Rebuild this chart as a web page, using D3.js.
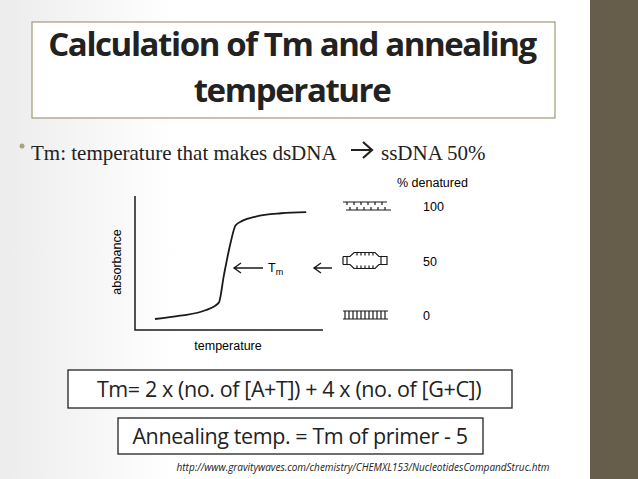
<!DOCTYPE html>
<html><head><meta charset="utf-8">
<script src="https://cdn.jsdelivr.net/npm/d3@7"></script>
<style>body{margin:0;background:#fff}svg{display:block}</style>
</head><body>
<script>
// melting curve: temperature (0-100) vs absorbance (0-100)
const temps = [0, 15, 30, 38, 41, 45, 48, 52, 60, 75, 90];
const absorb = [0, 3, 8, 15, 40, 70, 86, 90, 94, 97, 98];
const levels = ["100", "50", "0"];
const legendTitle = "% denatured";

const svg = d3.select("body").append("svg").attr("width", 638).attr("height", 479);
const defs = svg.append("defs");
const g = defs.append("linearGradient").attr("id", "bg").attr("x1", 0).attr("x2", 1);
g.append("stop").attr("offset", 0).attr("stop-color", "#ececec");
g.append("stop").attr("offset", 0.3).attr("stop-color", "#ffffff");
svg.append("rect").attr("width", 590).attr("height", 479).attr("fill", "url(#bg)");
svg.append("rect").attr("x", 590).attr("width", 48).attr("height", 479).attr("fill", "#665d4b");

// title
svg.append("rect").attr("x", 32).attr("y", 22).attr("width", 523).attr("height", 96)
  .attr("fill", "#fff").attr("stroke", "#a09a78").attr("stroke-width", 1.2);
const tf = { family: "Open Sans", size: 33 };
svg.append("text").attr("x", 292).attr("y", 56).attr("text-anchor", "middle").attr("font-family", tf.family)
  .attr("font-weight", 700).attr("font-size", tf.size).attr("letter-spacing", -1.4).attr("fill", "#222")
  .text("Calculation of Tm and annealing");
svg.append("text").attr("x", 292).attr("y", 102).attr("text-anchor", "middle").attr("font-family", tf.family)
  .attr("font-weight", 700).attr("font-size", tf.size).attr("letter-spacing", -1.4).attr("fill", "#222")
  .text("temperature");

svg.append("circle").attr("cx", 22).attr("cy", 146).attr("r", 2.5).attr("fill", "#a9a47c");
svg.append("text").attr("x", 31).attr("y", 160).attr("font-family", "Liberation Serif")
  .attr("font-size", 21).attr("fill", "#222").text("Tm: temperature that makes dsDNA");
svg.append("path").attr("d", "M351 150 L371 150 M363 142 L372 150 L363 158")
  .attr("stroke", "#222").attr("stroke-width", 2.2).attr("fill", "none");
svg.append("text").attr("x", 381).attr("y", 160).attr("font-family", "Liberation Serif")
  .attr("font-size", 21).attr("fill", "#222").text("ssDNA 50%");

// chart
const x = d3.scaleLinear().domain([0, 100]).range([155, 323]);
const y = d3.scaleLinear().domain([0, 100]).range([319, 210]);
const ink = "#1a1a1a";
svg.append("path").attr("d", "M135 196 L135 330 L323 330").attr("fill", "none")
  .attr("stroke", ink).attr("stroke-width", 1.5);
svg.append("path").datum(d3.zip(temps, absorb))
  .attr("d", d3.line().x(d => x(d[0])).y(d => y(d[1])).curve(d3.curveMonotoneX))
  .attr("fill", "none").attr("stroke", ink).attr("stroke-width", 1.8);
const sf = "Liberation Sans";
svg.append("text").attr("x", 228).attr("y", 350).attr("text-anchor", "middle")
  .attr("font-family", sf).attr("font-size", 12.5).text("temperature");
svg.append("text").attr("transform", "translate(121,262) rotate(-90)").attr("text-anchor", "middle")
  .attr("font-family", sf).attr("font-size", 12.5).text("absorbance");

function arrow(x1, x2, yy) {
  svg.append("path").attr("d", `M${x1} ${yy} L${x2} ${yy} M${x2 + 7} ${yy - 5} L${x2} ${yy} L${x2 + 7} ${yy + 5}`)
    .attr("stroke", ink).attr("stroke-width", 1.4).attr("fill", "none");
}
arrow(263, 234, 268);
arrow(332, 314, 268);
svg.append("text").attr("x", 268).attr("y", 272).attr("font-family", sf).attr("font-size", 12.5).text("T")
  .append("tspan").attr("font-size", 9).attr("dy", 3).text("m");

const ly = d3.scalePoint().domain(levels).range([206, 315]);
svg.append("text").attr("x", 397).attr("y", 187).attr("font-family", sf).attr("font-size", 12.5).text(legendTitle);
svg.selectAll("text.lv").data(levels).join("text").attr("class", "lv")
  .attr("x", 423).attr("y", d => ly(d) + 5).attr("font-family", sf).attr("font-size", 12.5).text(d => d);

// DNA icons
let p = "";
const yd = ly("100");
p += `M343 ${yd - 4} L387 ${yd - 4} M346 ${yd + 4} L391 ${yd + 4}`;
for (let i = 0; i < 6; i++) { const xx = 347 + i * 7; p += `M${xx} ${yd - 4} L${xx} ${yd - 1} M${xx + 3} ${yd + 4} L${xx + 3} ${yd + 1}`; }
const y0 = ly("0");
p += `M343 ${y0 - 4} L388 ${y0 - 4} M343 ${y0 + 4} L388 ${y0 + 4}`;
for (let i = 0; i < 11; i++) { const xx = 345 + i * 4; p += `M${xx} ${y0 - 4} L${xx} ${y0 + 4}`; }
const y5 = ly("50");
p += `M343 ${y5 - 4} L343 ${y5 + 4} M347 ${y5 - 4} L347 ${y5 + 4} M343 ${y5 - 4} L350 ${y5 - 4} L354 ${y5 - 8} L375 ${y5 - 8} L379 ${y5 - 4} L387 ${y5 - 4} L387 ${y5 + 4} L379 ${y5 + 4} L375 ${y5 + 8} L354 ${y5 + 8} L350 ${y5 + 4} L343 ${y5 + 4}`;
for (let i = 0; i < 5; i++) { const xx = 357 + i * 4; p += `M${xx} ${y5 - 8} L${xx} ${y5 - 5} M${xx} ${y5 + 8} L${xx} ${y5 + 5}`; }
p += `M381 ${y5 - 4} L381 ${y5 + 4}`;
svg.append("path").attr("d", p).attr("stroke", ink).attr("stroke-width", 1.2).attr("fill", "none");

// formula boxes
const ff = "Open Sans";
svg.append("rect").attr("x", 68).attr("y", 370).attr("width", 444).attr("height", 38)
  .attr("fill", "#fff").attr("stroke", "#222").attr("stroke-width", 1.3);
svg.append("text").attr("x", 289).attr("y", 397).attr("text-anchor", "middle").attr("font-family", ff)
  .attr("font-size", 21.5).attr("letter-spacing", -0.4).attr("fill", "#222").text("Tm= 2 x (no. of [A+T]) + 4 x (no. of [G+C])");
svg.append("rect").attr("x", 118).attr("y", 418).attr("width", 365).attr("height", 36)
  .attr("fill", "#fff").attr("stroke", "#222").attr("stroke-width", 1.3);
svg.append("text").attr("x", 300).attr("y", 444).attr("text-anchor", "middle").attr("font-family", ff)
  .attr("font-size", 21.5).attr("letter-spacing", -0.4).attr("fill", "#222").text("Annealing temp. = Tm of primer - 5");
svg.append("text").attr("x", 363).attr("y", 471).attr("text-anchor", "middle").attr("font-family", ff)
  .attr("font-style", "italic").attr("font-size", 10).attr("fill", "#222")
  .text("http://www.gravitywaves.com/chemistry/CHEMXL153/NucleotidesCompandStruc.htm");
</script>
</body></html>
